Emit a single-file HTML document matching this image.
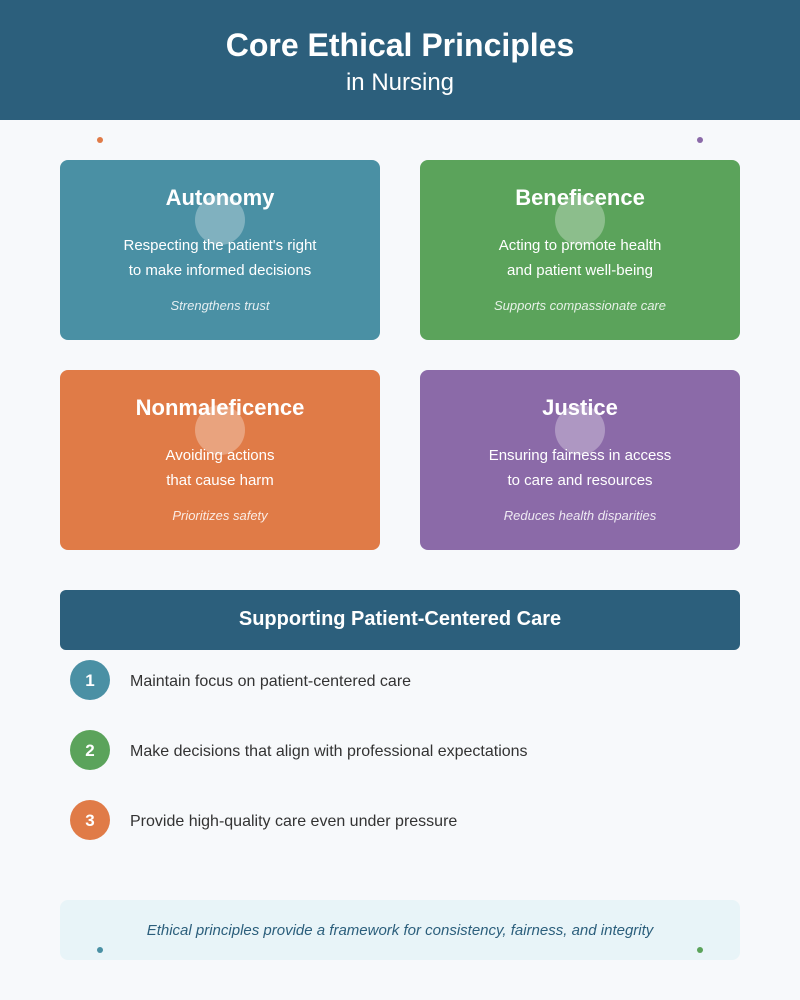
<!DOCTYPE html>
<html><head><meta charset="utf-8"><style>body{margin:0;background:#f7f9fb}svg{display:block;font-family:"Liberation Sans",Arial,sans-serif}</style></head><body>
<svg width="800" height="1000" viewBox="0 0 800 1000" xmlns="http://www.w3.org/2000/svg">
<rect width="800" height="1000" fill="#f7f9fb"/>
<rect width="800" height="120" fill="#2c5f7c"/>
<text x="400" y="56" text-anchor="middle" font-size="32" font-weight="bold" fill="#fff">Core Ethical Principles</text>
<text x="400" y="90" text-anchor="middle" font-size="24" fill="#fff">in Nursing</text>
<circle cx="100" cy="140" r="3" fill="#e07b47"/>
<circle cx="700" cy="140" r="3" fill="#8b6aa8"/>

<g>
<rect x="60" y="160" width="320" height="180" rx="8" fill="#4a90a4"/>
<circle cx="220" cy="220" r="25" fill="#fff" fill-opacity="0.3"/>
<text x="220" y="205" text-anchor="middle" font-size="22" font-weight="bold" fill="#fff">Autonomy</text>
<text x="220" y="250" text-anchor="middle" font-size="15" fill="#fff">Respecting the patient's right</text>
<text x="220" y="275" text-anchor="middle" font-size="15" fill="#fff">to make informed decisions</text>
<text x="220" y="310" text-anchor="middle" font-size="13" font-style="italic" fill="#fff" fill-opacity="0.85">Strengthens trust</text>
</g>
<g>
<rect x="420" y="160" width="320" height="180" rx="8" fill="#5ba35b"/>
<circle cx="580" cy="220" r="25" fill="#fff" fill-opacity="0.3"/>
<text x="580" y="205" text-anchor="middle" font-size="22" font-weight="bold" fill="#fff">Beneficence</text>
<text x="580" y="250" text-anchor="middle" font-size="15" fill="#fff">Acting to promote health</text>
<text x="580" y="275" text-anchor="middle" font-size="15" fill="#fff">and patient well-being</text>
<text x="580" y="310" text-anchor="middle" font-size="13" font-style="italic" fill="#fff" fill-opacity="0.85">Supports compassionate care</text>
</g>
<g>
<rect x="60" y="370" width="320" height="180" rx="8" fill="#e07b47"/>
<circle cx="220" cy="430" r="25" fill="#fff" fill-opacity="0.3"/>
<text x="220" y="415" text-anchor="middle" font-size="22" font-weight="bold" fill="#fff">Nonmaleficence</text>
<text x="220" y="460" text-anchor="middle" font-size="15" fill="#fff">Avoiding actions</text>
<text x="220" y="485" text-anchor="middle" font-size="15" fill="#fff">that cause harm</text>
<text x="220" y="520" text-anchor="middle" font-size="13" font-style="italic" fill="#fff" fill-opacity="0.85">Prioritizes safety</text>
</g>
<g>
<rect x="420" y="370" width="320" height="180" rx="8" fill="#8b6aa8"/>
<circle cx="580" cy="430" r="25" fill="#fff" fill-opacity="0.3"/>
<text x="580" y="415" text-anchor="middle" font-size="22" font-weight="bold" fill="#fff">Justice</text>
<text x="580" y="460" text-anchor="middle" font-size="15" fill="#fff">Ensuring fairness in access</text>
<text x="580" y="485" text-anchor="middle" font-size="15" fill="#fff">to care and resources</text>
<text x="580" y="520" text-anchor="middle" font-size="13" font-style="italic" fill="#fff" fill-opacity="0.85">Reduces health disparities</text>
</g>

<rect x="60" y="590" width="680" height="60" rx="6" fill="#2c5f7c"/>
<text x="400" y="625" text-anchor="middle" font-size="20" font-weight="bold" fill="#fff">Supporting Patient-Centered Care</text>

<circle cx="90" cy="680" r="20" fill="#4a90a4"/>
<text x="90" y="686" text-anchor="middle" font-size="17" font-weight="bold" fill="#fff">1</text>
<text x="130" y="686" font-size="16" fill="#333">Maintain focus on patient-centered care</text>
<circle cx="90" cy="750" r="20" fill="#5ba35b"/>
<text x="90" y="756" text-anchor="middle" font-size="17" font-weight="bold" fill="#fff">2</text>
<text x="130" y="756" font-size="16" fill="#333">Make decisions that align with professional expectations</text>
<circle cx="90" cy="820" r="20" fill="#e07b47"/>
<text x="90" y="826" text-anchor="middle" font-size="17" font-weight="bold" fill="#fff">3</text>
<text x="130" y="826" font-size="16" fill="#333">Provide high-quality care even under pressure</text>

<rect x="60" y="900" width="680" height="60" rx="8" fill="#e8f4f8"/>
<text x="400" y="935" text-anchor="middle" font-size="15" font-style="italic" fill="#2c5f7c">Ethical principles provide a framework for consistency, fairness, and integrity</text>
<circle cx="100" cy="950" r="3" fill="#4a90a4"/>
<circle cx="700" cy="950" r="3" fill="#5ba35b"/>
</svg>
</body></html>
